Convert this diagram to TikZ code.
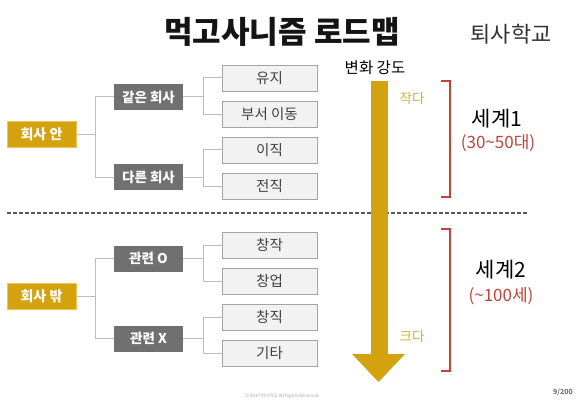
\documentclass[tikz,border=0pt]{standalone}
\usepackage{fontspec}
\setmainfont{Noto Sans CJK KR}
\usetikzlibrary{positioning}

\definecolor{goldfill}{HTML}{D4A20F}
\definecolor{goldline}{HTML}{EFC651}
\definecolor{goldtext}{HTML}{D9AE3E}
\definecolor{boxgrey}{HTML}{707070}
\definecolor{leaffill}{HTML}{F2F2F2}
\definecolor{leafline}{HTML}{A3A3A3}
\definecolor{linkgrey}{HTML}{BDBDBD}
\definecolor{worldred}{HTML}{C0433A}

\newcommand{\fsz}[1]{\fontsize{#1}{#1}\selectfont}

\begin{document}
\begin{tikzpicture}[x=1pt, y=-1pt,
    goldbox/.style={draw=goldline, line width=0.8pt, fill=goldfill, text=white, font=\fsz{14}\bfseries,
                    minimum width=69pt, minimum height=26pt, inner sep=0pt},
    greybox/.style={fill=boxgrey, text=white, font=\fsz{13.5}\bfseries,
                    minimum width=69pt, minimum height=26pt, inner sep=0pt},
    leafbox/.style={draw=leafline, line width=0.8pt, fill=leaffill, text=black!75, font=\fsz{14.5},
                    minimum width=95pt, minimum height=26pt, inner sep=0pt},
    link/.style={draw=linkgrey, line width=1pt},
    bracket/.style={draw=worldred, line width=1.2pt},
    sep/.style={draw=black!65, line width=1.2pt, dash pattern=on 4pt off 2pt}]
        \useasboundingbox (0,0) rectangle (580,406);

        % Title
        \node[font=\fsz{31}\bfseries, text=black!92] (title) at (282,32) {먹고사니즘 로드맵};
        \node[font=\fsz{22}, text=black!80] (school) at (511,34) {퇴사학교};

        % Nodes
        \node[goldbox] (inside) at (41.5,134.5) {회사 안};
        \node[goldbox] (outside) at (41.5,296) {회사 밖};

        \node[greybox] (same) at (148.5,97) {같은 회사};
        \node[greybox] (other) at (148.5,177) {다른 회사};
        \node[greybox] (relyes) at (148.5,258.5) {관련 O};
        \node[greybox] (relno) at (148.5,338.5) {관련 X};

        \node[leafbox] (keep) at (269.5,78) {유지};
        \node[leafbox] (move) at (269.5,114.5) {부서 이동};
        \node[leafbox] (change) at (269.5,150) {이직};
        \node[leafbox] (switch) at (269.5,186) {전직};
        \node[leafbox] (create) at (269.5,245) {창작};
        \node[leafbox] (startup) at (269.5,281) {창업};
        \node[leafbox] (newjob) at (269.5,317) {창직};
        \node[leafbox] (etc) at (269.5,353.5) {기타};

        % Edges
        \draw[link] (inside.east) -- ++(19,0) |- (same.west);
        \draw[link] (inside.east) -- ++(19,0) |- (other.west);
        \draw[link] (outside.east) -- ++(19,0) |- (relyes.west);
        \draw[link] (outside.east) -- ++(19,0) |- (relno.west);

        \draw[link] (same.east) -- ++(20,0) |- (keep.west);
        \draw[link] (same.east) -- ++(20,0) |- (move.west);
        \draw[link] (other.east) -- ++(20,0) |- (change.west);
        \draw[link] (other.east) -- ++(20,0) |- (switch.west);
        \draw[link] (relyes.east) -- ++(20,0) |- (create.west);
        \draw[link] (relyes.east) -- ++(20,0) |- (startup.west);
        \draw[link] (relno.east) -- ++(20,0) |- (newjob.west);
        \draw[link] (relno.east) -- ++(20,0) |- (etc.west);

        % Divider
        \draw[sep] (7,213) -- (528,213);

        % Intensity arrow
        \node[font=\fsz{15.5}] (intensity) at (375,68) {변화 강도};
        \fill[goldfill] (371,81) rectangle (388,355);
        \fill[goldfill] (352,354) -- (405,354) -- (378.5,382) -- cycle;
        \node[font=\fsz{13.5}, text=goldtext] (small) at (412,98) {작다};
        \node[font=\fsz{13.5}, text=goldtext] (large) at (412,336) {크다};

        % Worlds
        \draw[bracket] (441,81) -- (450,81) -- (450,197) -- (441,197);
        \draw[bracket] (441,229) -- (450,229) -- (450,371) -- (441,371);
        \node[font=\fsz{21}] (world1) at (497,119) {세계1};
        \node[font=\fsz{17}, text=worldred] (age1) at (498,143) {(30\textasciitilde50대)};
        \node[font=\fsz{21}] (world2) at (501,270) {세계2};
        \node[font=\fsz{17}, text=worldred] (age2) at (501,296) {(\textasciitilde100세)};

        % Footer
        \node[font=\fsz{4.5}, text=black!35] (copy) at (282,396) {© 2017 퇴사학교 All Rights Reserved};
        \node[font=\fsz{7}\bfseries, text=black!55] (page) at (563,392) {9/200};
    \end{tikzpicture}
\end{document}
